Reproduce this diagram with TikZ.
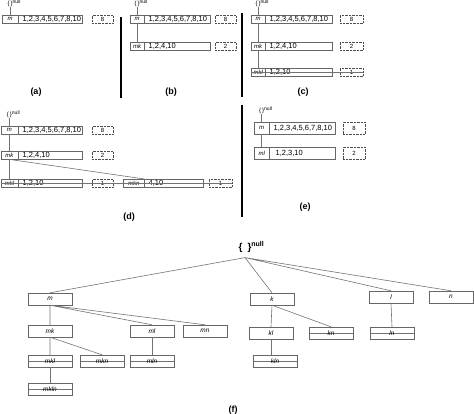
\documentclass[tikz,border=0pt]{standalone}
\usepackage{fontspec}
\setmainfont{Liberation Sans}
\usetikzlibrary{positioning}

\begin{document}
\begin{tikzpicture}[x=1pt,y=-1pt,
    cell/.style={draw=black!60,inner sep=0pt,minimum height=8pt,font=\fontsize{6}{6}\selectfont\itshape},
    lst/.style={draw=black!60,inner xsep=4pt,inner ysep=0pt,minimum height=8pt,text width=#1,align=left,font=\fontsize{7.5}{7.5}\selectfont},
    cnt/.style={draw=black!70,densely dotted,inner sep=0pt,minimum width=21pt,minimum height=8pt,font=\fontsize{6}{6}\selectfont},
    nul/.style={inner sep=0pt,font=\fontsize{6}{6}\selectfont},
    link/.style={black!55,line width=0.6pt},
    sep/.style={black,line width=2pt},
    tbox/.style={draw=black!60,inner sep=0pt,minimum width=44pt,minimum height=12pt,font=\fontsize{6.5}{6.5}\selectfont\itshape},
    cut/.style={tbox,path picture={\draw[link] (path picture bounding box.west) -- (path picture bounding box.east);}},
    tag/.style={font=\fontsize{9}{9}\selectfont\bfseries}]
    \useasboundingbox (0,0) rectangle (474,414);

    % (a)
    \node[cell,minimum width=16pt,anchor=north west] (am) at (2,15) {m};
    \node[lst=56pt,right=0pt of am] (amt) {1,2,3,4,5,6,7,8,10};
    \node[cnt,right=9pt of amt] (amc) {8};
    \node[nul,above=8pt of am] (anull) {\{\,\}\rlap{\textsuperscript{null}}};
    \draw[link] (anull) -- (am);
    \node[tag] (ta) at (36,92) {(a)};

    % (b)
    \node[cell,minimum width=14pt,anchor=north west] (bm) at (130,15) {m};
    \node[lst=58pt,right=0pt of bm] (bmt) {1,2,3,4,5,6,7,8,10};
    \node[cnt,right=4pt of bmt] (bmc) {8};
    \node[cell,minimum width=14pt,anchor=north west] (bmk) at (130,42) {mk};
    \node[lst=58pt,right=0pt of bmk] (bmkt) {1,2,4,10};
    \node[cnt,right=4pt of bmkt] (bmkc) {2};
    \node[nul,above=8pt of bm] (bnull) {\{\,\}\rlap{\textsuperscript{null}}};
    \draw[link] (bnull) -- (bm) -- (bmk);
    \node[tag] (tb) at (171,92) {(b)};

    % (c)
    \node[cell,minimum width=14pt,anchor=north west] (cm) at (251,15) {m};
    \node[lst=59pt,right=0pt of cm] (cmt) {1,2,3,4,5,6,7,8,10};
    \node[cnt,minimum width=23pt,right=7pt of cmt] (cmc) {8};
    \node[cell,minimum width=14pt,anchor=north west] (cmk) at (251,42) {mk};
    \node[lst=59pt,right=0pt of cmk] (cmkt) {1,2,4,10};
    \node[cnt,minimum width=23pt,right=7pt of cmkt] (cmkc) {2};
    \node[cell,minimum width=14pt,anchor=north west] (cmkl) at (251,68) {mkl};
    \node[lst=59pt,right=0pt of cmkl] (cmklt) {1,2,10};
    \node[cnt,minimum width=23pt,right=7pt of cmklt] (cmklc) {1};
    \node[nul,above=8pt of cm] (cnull) {\{\,\}\rlap{\textsuperscript{null}}};
    \draw[link] (cnull) -- (cm) -- (cmk) -- (cmkl);
    \draw[link] (cmkl.west) -- (cmklc.east);
    \node[tag] (tc) at (303,92) {(c)};

    % (d)
    \node[cell,minimum width=17.5pt,anchor=north west] (dm) at (0.5,126) {m};
    \node[lst=56pt,right=0pt of dm] (dmt) {1,2,3,4,5,6,7,8,10};
    \node[cnt,right=9pt of dmt] (dmc) {8};
    \node[cell,minimum width=17.5pt,anchor=north west] (dmk) at (0.5,151) {mk};
    \node[lst=56pt,right=0pt of dmk] (dmkt) {1,2,4,10};
    \node[cnt,right=9pt of dmkt] (dmkc) {2};
    \node[cell,minimum width=17.5pt,anchor=north west] (dmkl) at (0.5,179) {mkl};
    \node[lst=56pt,right=0pt of dmkl] (dmklt) {1,2,10};
    \node[cnt,right=9pt of dmklt] (dmklc) {1};
    \node[cell,minimum width=21pt,anchor=north west] (dmkn) at (123,179) {mkn};
    \node[lst=51pt,right=0pt of dmkn] (dmknt) {4,10};
    \node[cnt,minimum width=23pt,right=5pt of dmknt] (dmknc) {1};
    \node[nul,above=8pt of dm] (dnull) {\{\,\}\rlap{\textsuperscript{null}}};
    \draw[link] (dnull) -- (dm) -- (dmk) -- (dmkl);
    \draw[link] (dmk.south) -- (dmkn.north east);
    \draw[link] (dmkl.west) -- (dmknc.east);
    \node[tag] (td) at (129,217) {(d)};

    % (e)
    \node[cell,minimum width=15pt,minimum height=12pt,anchor=north west] (em) at (254,122) {m};
    \node[lst=58pt,minimum height=12pt,right=0pt of em] (emt) {1,2,3,4,5,6,7,8,10};
    \node[cnt,minimum width=22pt,minimum height=12pt,right=7pt of emt] (emc) {8};
    \node[cell,minimum width=15pt,minimum height=12pt,anchor=north west] (eml) at (254,147) {ml};
    \node[lst=58pt,minimum height=12pt,right=0pt of eml] (emlt) {\hspace{2pt}1,2,3,10};
    \node[cnt,minimum width=22pt,minimum height=12pt,right=7pt of emlt] (emlc) {2};
    \node[nul,above=8pt of em] (enull) {\{\,\}\rlap{\textsuperscript{null}}};
    \draw[link] (enull) -- (em) -- (eml);
    \node[tag] (te) at (305,207) {(e)};

    % separators
    \draw[sep] (121,17) -- (121,98);
    \draw[sep] (242,13) -- (242,97);
    \draw[sep] (242,105) -- (242,217);

    % (f)
    \node[inner sep=0pt,font=\fontsize{10}{10}\selectfont\bfseries] (root) at (245,247) {\{\enspace\}\rlap{\textsuperscript{null}}};
    \coordinate[below=5pt of root] (top);
    \node[tbox] (m) at (50,299) {m};
    \node[tbox] (k) at (272,299) {k};
    \node[tbox] (l) at (391,297) {l};
    \node[tbox] (n) at (451,297) {n};
    \node[tbox] (mk) at (50,331) {mk};
    \node[tbox] (ml) at (152,331) {ml};
    \node[tbox] (mn) at (205,331) {mn};
    \node[tbox] (kl) at (271,333) {kl};
    \node[cut] (kn) at (331,333) {kn};
    \node[cut] (ln) at (392,333) {ln};
    \node[cut] (mkl) at (50,361) {mkl};
    \node[cut] (mkn) at (102,361) {mkn};
    \node[cut] (mln) at (152,361) {mln};
    \node[cut] (kln) at (275,361) {kln};
    \node[cut] (mkln) at (50,389) {mkln};
    \draw[link] (top) -- (m.north) (top) -- (k.north) (top) -- (l.north) (top) -- (n.north);
    \draw[link] (m.south) -- (mk.north) (m.south) -- (ml.north) (m.south) -- (mn.north);
    \draw[link] (k.south) -- (kl.north) (k.south) -- (kn.north);
    \draw[link] (l.south) -- (ln.north);
    \draw[link] (mk.south) -- (mkl.north) (mk.south) -- (mkn.north);
    \draw[link] (ml.south) -- (mln.north);
    \draw[link] (kl.south) -- (kl.south |- kln.north);
    \draw[link] (mkl.south) -- (mkln.north);
    \node[tag] (tf) at (233,410) {(f)};
\end{tikzpicture}
\end{document}
